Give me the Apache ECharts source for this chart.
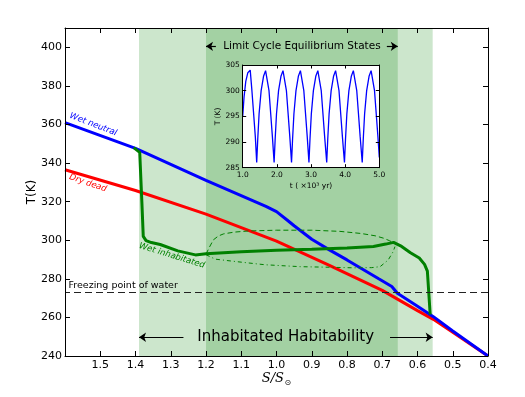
<!DOCTYPE html>
<html><head><meta charset="utf-8">
<script src="https://cdn.jsdelivr.net/npm/echarts@6/dist/echarts.min.js"></script>
<style>html,body{margin:0;padding:0;background:#fff}#c{width:525px;height:397px}</style>
</head><body><div id="c"></div>
<script>
// ---- data ----
const xTickValues = [1.5, 1.4, 1.3, 1.2, 1.1, 1.0, 0.9, 0.8, 0.7, 0.6, 0.5, 0.4];
const yTickValues = [240, 260, 280, 300, 320, 340, 360, 380, 400];
const insetXTicks = [1.0, 2.0, 3.0, 4.0, 5.0];
const insetYTicks = [285, 290, 295, 300, 305];

const inhabitedRange = [1.39, 0.557];
const limitCycleRange = [1.2, 0.656];
const freezingT = 273.15;

const wetNeutralS = [1.60, 1.40, 1.20, 1.03, 1.00, 0.97, 0.95, 0.90, 0.85, 0.80, 0.71, 0.673, 0.657, 0.60, 0.555, 0.50, 0.40];
const wetNeutralT = [361, 347.6, 331, 317.5, 314.8, 310.5, 307.5, 300.5, 295, 289.8, 280, 276, 272.5, 265.8, 260.4, 253, 240];

const dryDeadS = [1.60, 1.40, 1.20, 1.00, 0.85, 0.70, 0.60, 0.555, 0.50, 0.40];
const dryDeadT = [336.5, 325.8, 313.5, 299.5, 287, 274, 263.5, 259, 252.3, 240];

const wetInhabS = [1.405, 1.388, 1.382, 1.378, 1.370, 1.355, 1.330, 1.280, 1.230, 1.200, 1.100, 1.000, 0.900, 0.800, 0.725, 0.690, 0.668, 0.645, 0.620, 0.595, 0.580, 0.572, 0.564];
const wetInhabT = [348, 345.5, 320, 302, 299.8, 298.8, 297.8, 294.5, 292.4, 293, 294, 294.8, 295.3, 296, 296.8, 298, 298.9, 296.8, 293.5, 290.8, 287.5, 284, 261.5];

const cycleMaxS = [1.200, 1.190, 1.179, 1.165, 1.150, 1.120, 1.080, 1.000, 0.900, 0.820, 0.760, 0.720, 0.697, 0.680, 0.670];
const cycleMaxT = [292.8, 296.5, 300.2, 302.2, 303.3, 304.2, 304.8, 305.2, 305.2, 304.6, 303.5, 302.3, 301.1, 299.8, 298.9];

const cycleMinS = [1.200, 1.174, 1.118, 1.033, 0.933, 0.850, 0.780, 0.730, 0.706, 0.683, 0.669, 0.664];
const cycleMinT = [292.5, 290.2, 289, 287.3, 286.3, 286, 285.7, 285.8, 286.3, 289.8, 294.1, 296.7];

const insetTime = [
 1.00,1.04,1.09,1.15,1.22,1.27,1.32,1.37,1.41,
 1.44,1.48,1.54,1.61,1.67,1.72,1.77,1.82,1.87,1.92,
 1.95,1.99,2.05,2.12,2.18,2.23,2.28,2.33,2.38,2.43,
 2.46,2.50,2.56,2.63,2.69,2.74,2.79,2.84,2.89,2.94,
 2.97,3.01,3.07,3.14,3.20,3.25,3.30,3.35,3.40,3.46,
 3.49,3.53,3.59,3.66,3.72,3.77,3.82,3.87,3.92,3.98,
 4.01,4.05,4.11,4.18,4.24,4.29,4.34,4.39,4.44,4.50,
 4.53,4.57,4.63,4.70,4.76,4.81,4.86,4.91,4.96,5.00];
const insetTemp = [
 295,298.8,301.8,303.5,304,300,295.5,291,286,
 290.5,295.5,300,302.8,303.9,303.8,300,295.5,291,286,
 290.5,295.5,300,302.8,303.9,303.8,300,295.5,291,286,
 290.5,295.5,300,302.8,303.9,303.8,300,295.5,291,286,
 290.5,295.5,300,302.8,303.9,303.8,300,295.5,291,286,
 290.5,295.5,300,302.8,303.9,303.8,300,295.5,291,286,
 290.5,295.5,300,302.8,303.9,303.8,300,295.5,291,286,
 290.5,295.5,300,302.8,303.9,303.8,300,295.5,291,287];

// ---- chart ----
const FONT = 'DejaVu Sans';
const BLUE = '#0000ff', RED = '#ff0000', GREEN = '#008000';
const pairs = (xs, ys) => xs.map((x, i) => [x, ys[i]]);
const inList = (list, v) => list.some(t => Math.abs(t - v) < 1e-6);
const fmtX = v => inList(xTickValues, v) ? v.toFixed(1) : '';
const fmtY = v => inList(yTickValues, v) ? String(Math.round(v)) : '';
const fmtIX = v => inList(insetXTicks, v) ? v.toFixed(1) : '';
const fmtIY = v => inList(insetYTicks, v) ? String(Math.round(v)) : '';

function ax(extra, tickLen, fs, showLabel, fmt, margin) {
  return Object.assign({
    type: 'value',
    axisLine: {show: true, onZero: false, lineStyle: {color: '#000', width: 1}},
    axisTick: {show: true, inside: true, length: tickLen, lineStyle: {color: '#000', width: 1}},
    axisLabel: {show: showLabel, color: '#000', fontSize: fs, fontFamily: FONT, formatter: fmt, margin: margin,
                showMinLabel: true, showMaxLabel: true, hideOverlap: false},
    splitLine: {show: false}, z: 6
  }, extra);
}

const option = {
  animation: false,
  backgroundColor: '#fff',
  textStyle: {fontFamily: FONT},
  grid: [
    {left: 65, top: 28, width: 423, height: 328, show: true, backgroundColor: '#fff', borderWidth: 0, z: 0},
    {left: 242.7, top: 65, width: 136.6, height: 102.7, show: true, backgroundColor: '#fff', borderWidth: 0, z: 4}
  ],
  xAxis: [
    ax({gridIndex: 0, position: 'bottom', min: 0.4, max: 1.6, interval: 0.1, inverse: true}, 5, 11, true, fmtX, 4),
    ax({gridIndex: 0, position: 'top', min: 0.4, max: 1.6, interval: 0.1, inverse: true}, 5, 11, false, fmtX, 4),
    ax({gridIndex: 1, position: 'bottom', min: 1, max: 5, interval: 1, z: 7}, 3.5, 7.5, true, fmtIX, 3),
    ax({gridIndex: 1, position: 'top', min: 1, max: 5, interval: 1, z: 7}, 3.5, 7.5, false, fmtIX, 3)
  ],
  yAxis: [
    ax({gridIndex: 0, position: 'left', min: 240, max: 410, interval: 20}, 5, 11, true, fmtY, 3),
    ax({gridIndex: 0, position: 'right', min: 240, max: 410, interval: 20}, 5, 11, false, fmtY, 3),
    ax({gridIndex: 1, position: 'left', min: 285, max: 305, interval: 5, z: 7}, 3.5, 7.5, true, fmtIY, 3),
    ax({gridIndex: 1, position: 'right', min: 285, max: 305, interval: 5, z: 7}, 3.5, 7.5, false, fmtIY, 3)
  ],
  series: [
    {type: 'line', xAxisIndex: 0, yAxisIndex: 0, data: [], z: 1, silent: true,
     markArea: {silent: true, itemStyle: {color: '#cce6cc'},
       data: [
         [{xAxis: inhabitedRange[0]}, {xAxis: inhabitedRange[1]}],
         [{xAxis: limitCycleRange[0], itemStyle: {color: '#a3d1a3'}}, {xAxis: limitCycleRange[1]}]
       ]}},
    {type: 'line', xAxisIndex: 0, yAxisIndex: 0, data: [], z: 2, silent: true,
     markLine: {silent: true, symbol: ['none', 'none'], label: {show: false},
       lineStyle: {color: '#222', width: 1.2, type: [7, 4]}, data: [{yAxis: freezingT}]}},
    {type: 'line', xAxisIndex: 0, yAxisIndex: 0, data: [], z: 3, silent: true,
     markLine: {silent: true, symbol: ['none', 'arrow'], symbolSize: 7, label: {show: false},
       lineStyle: {color: '#000', width: 1.2, type: 'solid'},
       data: [
         [{coord: [1.172, 400.5]}, {coord: [limitCycleRange[0], 400.5]}],
         [{coord: [0.687, 400.5]}, {coord: [limitCycleRange[1], 400.5]}],
         [{coord: [1.264, 249.7]}, {coord: [inhabitedRange[0], 249.7]}],
         [{coord: [0.678, 249.7]}, {coord: [inhabitedRange[1], 249.7]}]
       ]}},
    {name: 'Dry dead', type: 'line', xAxisIndex: 0, yAxisIndex: 0, z: 3, showSymbol: false, silent: true,
     lineStyle: {color: RED, width: 3}, data: pairs(dryDeadS, dryDeadT)},
    {name: 'Wet neutral', type: 'line', xAxisIndex: 0, yAxisIndex: 0, z: 3, showSymbol: false, silent: true,
     lineStyle: {color: BLUE, width: 3}, data: pairs(wetNeutralS, wetNeutralT)},
    {name: 'Cycle max', type: 'line', xAxisIndex: 0, yAxisIndex: 0, z: 3, showSymbol: false, silent: true,
     lineStyle: {color: GREEN, width: 1, type: [5, 3]}, data: pairs(cycleMaxS, cycleMaxT)},
    {name: 'Cycle min', type: 'line', xAxisIndex: 0, yAxisIndex: 0, z: 3, showSymbol: false, silent: true,
     lineStyle: {color: GREEN, width: 1, type: [4, 3, 1, 3]}, data: pairs(cycleMinS, cycleMinT)},
    {name: 'Wet inhabitated', type: 'line', xAxisIndex: 0, yAxisIndex: 0, z: 3, showSymbol: false, silent: true,
     lineStyle: {color: GREEN, width: 3}, data: pairs(wetInhabS, wetInhabT)},
    {name: 'Inset', type: 'line', xAxisIndex: 2, yAxisIndex: 2, z: 5, showSymbol: false, silent: true,
     lineStyle: {color: BLUE, width: 1.3}, data: pairs(insetTime, insetTemp)}
  ]
};

const chart = echarts.init(document.getElementById('c'), null, {renderer: 'canvas'});
chart.setOption(option);

const P = (s, t) => chart.convertToPixel({gridIndex: 0}, [s, t]);
const notes = [
  {text: 'Wet neutral', at: [1.520, 360.0], rot: -21, color: BLUE, size: 8.5, style: 'italic'},
  {text: 'Dry dead', at: [1.535, 329.6], rot: -19, color: RED, size: 8.5, style: 'italic'},
  {text: 'Wet inhabitated', at: [1.297, 292], rot: -17, color: GREEN, size: 8.5, style: 'italic'},
  {text: 'Limit Cycle Equilibrium States', at: [0.928, 400.5], rot: 0, color: '#000', size: 10.5, style: 'normal'},
  {text: 'Inhabitated Habitability', at: [0.974, 249.7], rot: 0, color: '#000', size: 15, style: 'normal'}
];
const graphics = notes.map(n => {
  const p = P(n.at[0], n.at[1]);
  return {type: 'text', x: p[0], y: p[1], rotation: n.rot * Math.PI / 180, z: 20, silent: true,
    style: {text: n.text, fill: n.color, font: n.style + ' ' + n.size + 'px "' + FONT + '"', align: 'center', verticalAlign: 'middle'}};
});
const fp = P(1.59, 276.3);
graphics.push({type: 'text', x: fp[0], y: fp[1], z: 20, silent: true,
  style: {text: 'Freezing point of water', fill: '#000', font: '9.5px "' + FONT + '"', align: 'left', verticalAlign: 'middle'}});
// axis titles
graphics.push({type: 'text', x: 31.5, y: 192, rotation: Math.PI / 2, z: 20, silent: true,
  style: {text: 'T(K)', fill: '#000', font: '12px "' + FONT + '"', align: 'center', verticalAlign: 'middle'}});
graphics.push({type: 'text', x: 284, y: 379, z: 20, silent: true,
  style: {text: 'S/S', fill: '#000', font: 'italic 13px "DejaVu Serif"', align: 'right', verticalAlign: 'middle'}});
graphics.push({type: 'text', x: 284.5, y: 383, z: 20, silent: true,
  style: {text: '\u2299', fill: '#000', font: '8px "DejaVu Sans"', align: 'left', verticalAlign: 'middle'}});
graphics.push({type: 'text', x: 218.5, y: 116.5, rotation: Math.PI / 2, z: 20, silent: true,
  style: {text: 'T (K)', fill: '#000', font: '7.5px "' + FONT + '"', align: 'center', verticalAlign: 'middle'}});
graphics.push({type: 'text', x: 311, y: 186, z: 20, silent: true,
  style: {text: 't ( \u00d710\u00b3 yr)', fill: '#000', font: '7.5px "' + FONT + '"', align: 'center', verticalAlign: 'middle'}});
chart.setOption({graphic: graphics});
</script>
</body></html>
